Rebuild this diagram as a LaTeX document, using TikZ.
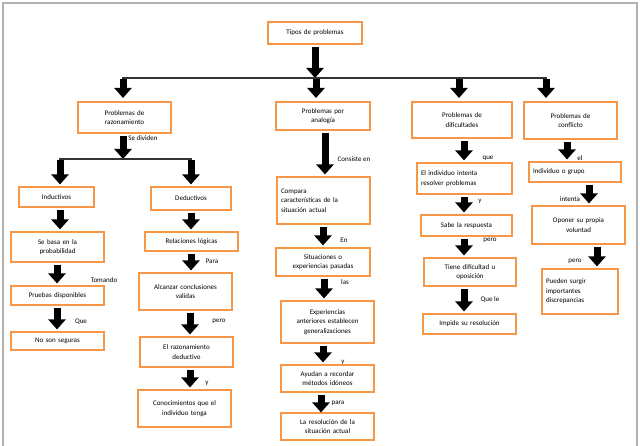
\documentclass[tikz,border=0pt]{standalone}
\usepackage{fontspec}
\setmainfont{Carlito}
\usetikzlibrary{arrows.meta,calc}
\definecolor{boxor}{HTML}{F79646}
\begin{document}
\begin{tikzpicture}[x=1pt,y=-1pt,
  box/.style={draw=boxor,line width=1.1pt,inner sep=1pt,align=center,font=\fontsize{7}{9.5}\selectfont},
  lbl/.style={font=\fontsize{7}{9}\selectfont,inner sep=0pt},
  barr/.style={line width=7pt,-{Triangle[width=17pt,length=10pt]},shorten <=2pt,shorten >=2pt},
  bar/.style={line width=1.4pt,draw=black!80}]
\useasboundingbox (0,0) rectangle (640,446);
\fill[white] (0,0) rectangle (640,446);
\draw[gray!60,line width=2pt] (3,446) -- (3,3) -- (637,3) -- (637,446);
\newcommand{\bx}[7][center]{\node[box,align=#1,minimum width={#5-#3},minimum height={#6-#4},text width={#5-#3-8}] (#2) at ({(#3+#5)/2},{(#4+#6)/2}) {#7};}
% top level
\bx{top}{268}{22}{362}{44}{Tipos de problemas}
\bx{raz}{78}{102}{171}{133}{Problemas de\\razonamiento}
\bx{ana}{276}{102}{370}{130}{Problemas por\\analogía}
\bx{dif}{412}{102}{512}{138}{Problemas de\\dificultades}
\bx{con}{524}{102}{617}{139}{Problemas de\\conflicto}
\coordinate (b1) at (315,78);
\draw[barr,shorten >=0pt] (top.south) -- (b1);
\draw[bar] (122,78) -- (547,78);
\foreach \n/\xx in {raz/123,ana/316,dif/459,con/546}{
  \draw[barr,shorten <=1pt] (\xx,78) -- (\xx,100);}
% razonamiento
\bx{ind}{19}{187}{94}{207}{Inductivos}
\bx{ded}{151}{187}{231}{210}{Deductivos}
\coordinate (b2) at (123,159);
\draw[barr,shorten >=0pt] (raz.south -| b2) -- (b2);
\node[lbl] at (143,138) {Se dividen};
\draw[bar] (59,159) -- (192,159);
\draw[barr,shorten <=1pt] (60,159) -- (ind.north -| 60,0);
\draw[barr,shorten <=1pt] (191,159) -- (ded.north -| 191,0);
\bx{bas}{11}{232}{104}{262}{Se basa en la\\probabilidad}
\bx{pru}{11}{286}{104}{305}{Pruebas disponibles}
\bx{nos}{11}{332}{104}{350}{No son seguras}
\draw[barr] (ind.south -| 60,0) -- (bas.north -| 60,0);
\draw[barr] (bas.south -| 57,0) -- (pru.north -| 57,0);
\node[lbl] at (104,280) {Tomando};
\draw[barr] (pru.south -| 57,0) -- (nos.north -| 57,0);
\node[lbl] at (81,322) {Que};
\bx{rel}{145}{232}{238}{251}{Relaciones lógicas}
\bx{alc}{139}{273}{232}{310}{Alcanzar conclusiones\\validas}
\bx{rzd}{140}{337}{233}{367}{El razonamiento\\deductivo}
\bx{coc}{138}{390}{231}{427}{Conocimientos que el\\individuo tenga}
\draw[barr] (ded.south -| 191,0) -- (rel.north -| 191,0);
\draw[barr] (rel.south -| 191,0) -- (alc.north -| 191,0);
\node[lbl] at (212,261) {Para};
\draw[barr] (alc.south -| 190,0) -- (rzd.north -| 190,0);
\node[lbl] at (219,321) {pero};
\draw[barr] (rzd.south -| 190,0) -- (coc.north -| 190,0);
\node[lbl] at (207,383) {y};
% analogia
\bx[left]{cmp}{277}{177}{370}{224}{Compara\\características de la\\situación actual}
\bx{sit}{276}{248}{370}{276}{Situaciones o\\experiencias pasadas}
\bx{exp}{281}{301}{374}{343}{Experiencias\\anteriores establecen\\generalizaciones}
\bx{ayu}{281}{365}{374}{392}{Ayudan a recordar\\métodos idóneos}
\bx{res}{281}{413}{374}{440}{La resolución de la\\situación actual}
\draw[barr] (ana.south -| 325,0) -- (cmp.north -| 325,0);
\node[lbl] at (354,159) {Consiste en};
\draw[barr] (cmp.south -| 323,0) -- (sit.north -| 323,0);
\node[lbl] at (344,240) {En};
\draw[barr] (sit.south -| 324,0) -- (exp.north -| 324,0);
\node[lbl] at (345,282) {las};
\draw[barr] (exp.south -| 323,0) -- (ayu.north -| 323,0);
\node[lbl] at (343,362) {y};
\draw[barr,shorten >=0pt] (ayu.south -| 321,0) -- (res.north -| 321,0);
\node[lbl] at (338,403) {para};
% dificultades
\bx[left]{ein}{417}{163}{512}{194}{El individuo intenta\\resolver problemas}
\bx{sab}{421}{215}{512}{236}{Sabe la respuesta}
\bx{tie}{424}{258}{516}{286}{Tiene dificultad u\\oposición}
\bx{imp}{423}{314}{516}{334}{Impide su resolución}
\draw[barr] (dif.south -| 464,0) -- (ein.north -| 464,0);
\node[lbl] at (488,158) {que};
\draw[barr] (ein.south -| 464,0) -- (sab.north -| 464,0);
\node[lbl] at (480,201) {y};
\draw[barr] (sab.south -| 464,0) -- (tie.north -| 464,0);
\node[lbl] at (490,240) {pero};
\draw[barr] (tie.south -| 464,0) -- (imp.north -| 464,0);
\node[lbl] at (490,300) {Que le};
% conflicto
\bx[left]{ind2}{529}{162}{621}{182}{Individuo o grupo}
\bx{opo}{532}{206}{625}{244}{Oponer su propia\\voluntad}
\bx[left]{pue}{542}{269}{618}{314}{Pueden surgir\\importantes\\discrepancias}
\draw[barr] (con.south -| 567,0) -- (ind2.north -| 567,0);
\node[lbl] at (580,158) {el};
\draw[barr] (ind2.south -| 589,0) -- (opo.north -| 589,0);
\node[lbl] at (570,199) {intenta};
\draw[barr] (opo.south -| 597,0) -- (pue.north -| 597,0);
\node[lbl] at (575,261) {pero};
\end{tikzpicture}
\end{document}
